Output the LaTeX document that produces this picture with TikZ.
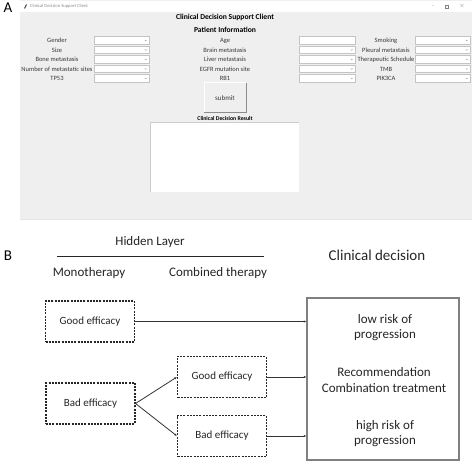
\documentclass[tikz,border=0pt]{standalone}
\usepackage{fontspec}
\setmainfont{Carlito}
\usetikzlibrary{arrows.meta}
\definecolor{wingray}{HTML}{EFEFEF}
\definecolor{boxline}{HTML}{C4C4C4}
\definecolor{txtA}{HTML}{3A3A3A}
\definecolor{txtB}{HTML}{262626}
\begin{document}
\begin{tikzpicture}[x=1pt,y=-1pt,
  lab/.style={font=\fontsize{6.5}{7}\selectfont, text=txtA, inner sep=0pt, anchor=center},
  combo/.style={draw=boxline, fill=white, line width=0.5pt, minimum width=55pt, minimum height=7.5pt, inner sep=0pt},
  chev/.style={draw=black!45, line width=0.35pt},
  dbox/.style={draw=black!85, dashed, dash pattern=on 2pt off 1.2pt, line width=1.1pt, minimum width=89pt, minimum height=41pt, inner sep=0pt, font=\fontsize{11}{13}\selectfont, text=txtB},
  bigtxt/.style={font=\fontsize{13}{15.5}\selectfont, text=txtB, align=center, inner sep=0pt},
  conn/.style={draw=black!80, line width=0.8pt, -{Latex[length=2.6pt,width=2.2pt]}},
]
\useasboundingbox (0,0) rectangle (474,462);
\fill[white] (0,0) rectangle (474,462);
% ---------- Panel A ----------
\node[font=\fontsize{15}{16}\selectfont, inner sep=0pt] (labA) at (8,8) {A};
\fill[black!6] (20,0) rectangle (472,1.5);
\fill[white] (20,1.5) rectangle (472,12);
\fill[wingray] (20,12) rectangle (472,219);
\draw[black!10, line width=0.6pt] (20,219.3) -- (472,219.3);
% title bar
\node[font=\fontsize{4.6}{5}\selectfont, text=black!45, anchor=west, inner sep=0pt] (wtitle) at (30,6.5) {Clinical Decision Support Client};
\draw[black!75, line width=0.9pt] (24.5,8.5) -- (26.5,4.5);
\node[font=\fontsize{5}{5}\selectfont, text=black!50, inner sep=0pt] (wmin) at (433,6.5) {--};
\node[draw=black!50, line width=0.35pt, minimum width=3.2pt, minimum height=3.2pt, inner sep=0pt] (wmax) at (447,6.5) {};
\node[font=\fontsize{6}{6}\selectfont, text=black!50, inner sep=0pt] (wclose) at (462,6.5) {$\times$};
% headings
\node[font=\bfseries\fontsize{7.6}{8}\selectfont, inner sep=0pt] (hA) at (225,17.5) {Clinical Decision Support Client};
\node[font=\bfseries\fontsize{7.6}{8}\selectfont, inner sep=0pt] (hB) at (225,30) {Patient Information};
% left column
\node[lab] (l1) at (57,40.5) {Gender};
\node[lab] (l2) at (57,50) {Size};
\node[lab] (l3) at (57,59.5) {Bone metastasis};
\node[lab] (l4) at (57,69) {Number of metastatic sites};
\node[lab] (l5) at (57,78.5) {TP53};
% middle column
\node[lab] (m1) at (225,40.5) {Age};
\node[lab] (m2) at (225,50) {Brain metastasis};
\node[lab] (m3) at (225,59.5) {Liver metastasis};
\node[lab] (m4) at (225,69) {EGFR mutation site};
\node[lab] (m5) at (225,78.5) {RB1};
% right column
\node[lab] (r1) at (386,40.5) {Smoking};
\node[lab] (r2) at (386,50) {Pleural metastasis};
\node[lab] (r3) at (386,59.5) {Therapeutic Schedule};
\node[lab] (r4) at (386,69) {TMB};
\node[lab] (r5) at (386,78.5) {PIK3CA};
% entry boxes
\node[combo, minimum width=56pt] (eAge) at (327,40.5) {};
\foreach \nm/\x/\y/\w in {cl1/121.5/40.5/55, cl2/121.5/50/55, cl3/121.5/59.5/55, cl4/121.5/69/55, cl5/121.5/78.5/55,
                          cm2/327/50/56, cm3/327/59.5/56, cm4/327/69/56, cm5/327/78.5/56,
                          cr1/442.5/40.5/55, cr2/442.5/50/55, cr3/442.5/59.5/55, cr4/442.5/69/55, cr5/442.5/78.5/55}{
  \node[combo, minimum width=\w pt] (\nm) at (\x,\y) {};
  \draw[chev] ([xshift=-4.5pt,yshift=0.5pt]\nm.east) -- ++(1,1) -- ++(1,-1);
}
% submit button
\node[fill=wingray, minimum width=42pt, minimum height=29pt, inner sep=0pt] (submit) at (225,97.5) {};
\draw[white, line width=0.6pt] (submit.south west) -- (submit.north west) -- (submit.north east);
\draw[black!45, line width=0.6pt] (submit.north east) -- (submit.south east) -- (submit.south west);
\node[font=\fontsize{7}{8}\selectfont, text=txtA, inner sep=0pt] (subt) at (225,98) {submit};
\node[font=\bfseries\fontsize{5.8}{6}\selectfont, inner sep=0pt] (resl) at (225,118) {Clinical Decision Result};
\node[fill=white, minimum width=148pt, minimum height=69pt, inner sep=0pt] (res) at (225,157.5) {};
\draw[black!20, line width=0.8pt] (res.south west) -- (res.north west) -- (res.north east);
% ---------- Panel B ----------
\node[font=\fontsize{15}{16}\selectfont, inner sep=0pt] (labB) at (8,256) {B};
\node[bigtxt] (hid) at (150,242) {Hidden Layer};
\coordinate (hl1) at (57,257);
\coordinate (hl2) at (264,257);
\draw[black!85, line width=1pt] (hl1) -- (hl2);
\node[bigtxt] (mono) at (89,273) {Monotherapy};
\node[bigtxt] (comb) at (218,273) {Combined therapy};
\node[font=\fontsize{15}{17}\selectfont, text=txtB, inner sep=0pt] (cdec) at (377,255.5) {Clinical decision};
% boxes
\node[dbox] (good1) at (90,321.5) {Good efficacy};
\node[dbox] (bad1) at (90.5,403.5) {Bad efficacy};
\node[dbox] (good2) at (222,377) {Good efficacy};
\node[dbox] (bad2) at (222,436) {Bad efficacy};
\node[draw=black!50, line width=1.1pt, minimum width=152pt, minimum height=162pt, inner sep=0pt] (big) at (383,379) {};
\node[bigtxt] (low) at (385,327.5) {low risk of\\progression};
\node[bigtxt] (rec) at (384,380) {Recommendation\\Combination treatment};
\node[bigtxt] (high) at (385,433.5) {high risk of\\progression};
% connectors
\draw[conn] (good1.east) -- (good1.east -| big.west);
\draw[conn] (bad1.east) -- (good2.west);
\draw[conn] (bad1.east) -- (bad2.west);
\draw[conn] (good2.east) -- (good2.east -| big.west);
\draw[conn] (bad2.east) -- (bad2.east -| big.west);
\end{tikzpicture}
\end{document}
